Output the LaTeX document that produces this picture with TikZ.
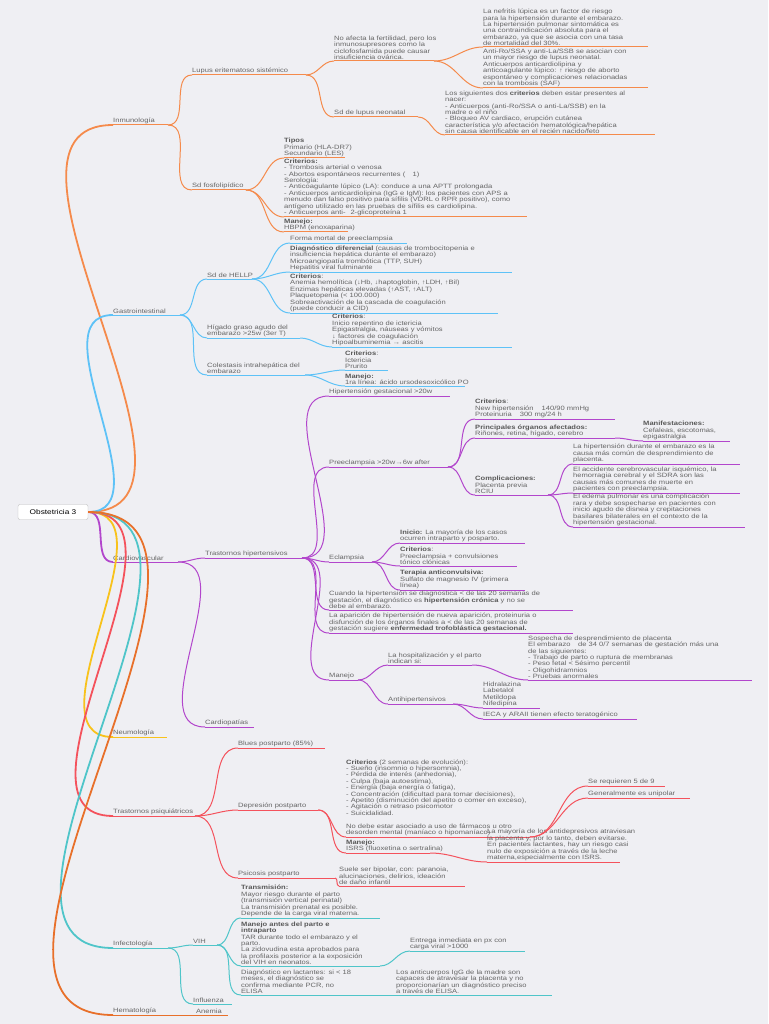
\documentclass[tikz,border=0pt]{standalone}
\usepackage{fontspec}
\setmainfont{Liberation Sans}[FakeStretch=1.22]
\definecolor{bg}{HTML}{EFEFF3}
\definecolor{tx}{HTML}{666666}
\definecolor{co}{HTML}{F58A4B}
\definecolor{bl}{HTML}{5EC2F7}
\definecolor{pu}{HTML}{B246CC}
\definecolor{ye}{HTML}{F8C21B}
\definecolor{re}{HTML}{F4525C}
\definecolor{te}{HTML}{4FC5C9}
\definecolor{ho}{HTML}{E8702A}
\tikzset{
 txt/.style={inner xsep=0pt,inner ysep=1pt,align=left,text=tx,font=\fontsize{6.2}{6.4}\selectfont},
 uline/.style={line width=1pt},
 conn/.style={line width=1pt},
 conn1/.style={line width=1.8pt},
}
\newcommand\leaf[6]{%
 \node[txt,anchor=south west] (#1) at (#2,#3) {#6};
 \coordinate (#1-l) at (#2,#3); \coordinate (#1-r) at (#2+#4,#3);
 \draw[uline,#5] (#1-l) -- (#1-r);}
\newcommand\con[3]{\draw[conn,#3] (#1-r) to[out=0,in=180] (#2-l);}
\newcommand\rcon[2]{\draw[conn1,#2] (root.east) to[out=0,in=180] (#1-l);}
\newcommand\hb[1]{\textbf{\color{black!65}#1}}
\begin{document}
\begin{tikzpicture}[x=1pt,y=-1pt]
\fill[bg] (0,0) rectangle (768,1024);
\useasboundingbox (0,0) rectangle (768,1024);
\node[draw=black!25,fill=white,rounded corners=2pt,minimum width=70pt,minimum height=15pt,font=\fontsize{6.8}{8}\selectfont] (root) at (53,512) {Obstetricia 3};
% level 1
\leaf{inm}{113}{125}{55}{co}{Inmunología}
\leaf{gas}{113}{315}{67}{bl}{Gastrointestinal}
\leaf{car}{113}{562}{65}{pu}{Cardiovascular}
\leaf{neu}{113}{737}{54}{ye}{Neumología}
\leaf{psi}{113}{816}{82}{re}{Trastornos psiquiátricos}
\leaf{inf}{113}{948}{55}{te}{Infectología}
\leaf{hem}{113}{1015}{55}{ho}{Hematología}
\rcon{inm}{co}\rcon{gas}{bl}\rcon{car}{pu}\rcon{neu}{ye}\rcon{psi}{re}\rcon{inf}{te}\rcon{hem}{ho}
% Inmunologia
\leaf{les}{192}{75}{114}{co}{Lupus eritematoso sistémico}
\leaf{fer}{334}{61}{100}{co}{No afecta la fertilidad, pero los\\inmunosupresores como la\\ciclofosfamida puede causar\\insuficiencia ovárica.}
\leaf{nef}{483}{47}{165}{co}{La nefritis lúpica es un factor de riesgo\\para la hipertensión durante el embarazo.\\La hipertensión pulmonar sintomática es\\una contraindicación absoluta para el\\embarazo, ya que se asocia con una tasa\\de mortalidad del 30\%.}
\leaf{ant}{483}{88}{165}{co}{Anti-Ro/SSA y anti-La/SSB se asocian con\\un mayor riesgo de lupus neonatal.\\Anticuerpos anticardiolipina y\\anticoagulante lúpico: ↑ riesgo de aborto\\espontáneo y complicaciones relacionadas\\con la trombosis (SAF)}
\leaf{lneo}{334}{117}{84}{co}{Sd de lupus neonatal}
\leaf{lneoc}{445}{135}{210}{co}{Los siguientes dos \hb{criterios} deben estar presentes al\\nacer:\\- Anticuerpos (anti-Ro/SSA o anti-La/SSB) en la\\madre o el niño\\- Bloqueo AV cardiaco, erupción cutánea\\característica y/o afectación hematológica/hepática\\sin causa identificable en el recién nacido/feto}
\leaf{saf}{192}{190}{54}{co}{Sd fosfolipídico}
\leaf{tip}{284}{158}{61}{co}{\hb{Tipos}\\Primario (HLA-DR7)\\Secundario (LES)}
\leaf{scri}{284}{217}{243}{co}{\hb{Criterios:}\\- Trombosis arterial o venosa\\- Abortos espontáneos recurrentes (\hspace{1.2em}1)\\Serología:\\- Anticoagulante lúpico (LA): conduce a una APTT prolongada\\- Anticuerpos anticardiolipina (IgG e IgM): los pacientes con APS a\\menudo dan falso positivo para sífilis (VDRL o RPR positivo), como\\antígeno utilizado en las pruebas de sífilis es cardiolipina.\\- Anticuerpos anti-\hspace{0.8em}2-glicoproteína 1}
\leaf{sman}{284}{232}{64}{co}{\hb{Manejo:}\\HBPM (enoxaparina)}
\con{inm}{les}{co}\con{inm}{saf}{co}\con{les}{fer}{co}\con{les}{lneo}{co}
\con{fer}{nef}{co}\con{fer}{ant}{co}\con{lneo}{lneoc}{co}
\con{saf}{tip}{co}\con{saf}{scri}{co}\con{saf}{sman}{co}
% Gastro
\leaf{hel}{207}{279}{45}{bl}{Sd de HELLP}
\leaf{hfm}{290}{243}{117}{bl}{Forma mortal de preeclampsia}
\leaf{hdd}{290}{272}{222}{bl}{\hb{Diagnóstico diferencial} (causas de trombocitopenia e\\insuficiencia hepática durante el embarazo)\\Microangiopatía trombótica (TTP, SUH)\\Hepatitis viral fulminante}
\leaf{hcr}{290}{313}{208}{bl}{\hb{Criterios}:\\Anemia hemolítica (↓Hb, ↓haptoglobin, ↑LDH, ↑Bil)\\Enzimas hepáticas elevadas (↑AST, ↑ALT)\\Plaquetopenia (< 100.000)\\Sobreactivación de la cascada de coagulación\\(puede conducir a CID)}
\leaf{hga}{207}{338}{93}{bl}{Hígado graso agudo del\\embarazo >25w (3er T)}
\leaf{hgc}{332}{347}{180}{bl}{\hb{Criterios}:\\Inicio repentino de ictericia\\Epigastralgia, náuseas y vómitos\\↓ factores de coagulación\\Hipoalbuminemia → ascitis}
\leaf{col}{207}{375}{98}{bl}{Colestasis intrahepática del\\embarazo}
\leaf{cc1}{345}{370}{43}{bl}{\hb{Criterios}:\\Ictericia\\Prurito}
\leaf{cc2}{345}{386}{120}{bl}{\hb{Manejo:}\\1ra línea: ácido ursodesoxicólico PO}
\con{gas}{hel}{bl}\con{gas}{hga}{bl}\con{gas}{col}{bl}
\con{hel}{hfm}{bl}\con{hel}{hdd}{bl}\con{hel}{hcr}{bl}\con{hga}{hgc}{bl}\con{col}{cc1}{bl}\con{col}{cc2}{bl}
% Cardio
\leaf{thi}{205}{558}{97}{pu}{Trastornos hipertensivos}
\leaf{hge}{329}{396}{121}{pu}{Hipertensión gestacional >20w}
\leaf{pre}{329}{467}{119}{pu}{Preeclampsia >20w→6w after}
\leaf{pcr}{475}{419}{140}{pu}{\hb{Criterios}:\\New hipertensión\hspace{1.3em}140/90 mmHg\\Proteinuria\hspace{1.3em}300 mg/24 h}
\leaf{por}{475}{438}{140}{pu}{\hb{Principales órganos afectados:}\\Riñones, retina, hígado, cerebro}
\leaf{pma}{643}{441}{87}{pu}{\hb{Manifestaciones:}\\Cefaleas, escotomas,\\epigastralgia}
\leaf{pco}{475}{495}{73}{pu}{\hb{Complicaciones:}\\Placenta previa\\RCIU}
\leaf{pc1}{573}{464}{167}{pu}{La hipertensión durante el embarazo es la\\causa más común de desprendimiento de\\placenta.}
\leaf{pc2}{573}{493}{167}{pu}{El accidente cerebrovascular isquémico, la\\hemorragia cerebral y el SDRA son las\\causas más comunes de muerte en\\pacientes con preeclampsia.}
\leaf{pc3}{573}{527}{172}{pu}{El edema pulmonar es una complicación\\rara y debe sospecharse en pacientes con\\inicio agudo de disnea y crepitaciones\\basilares bilaterales en el contexto de la\\hipertensión gestacional.}
\leaf{ecl}{329}{562}{43}{pu}{Eclampsia}
\leaf{ei}{400}{543}{125}{pu}{\hb{Inicio:} La mayoría de los casos\\ocurren intraparto y posparto.}
\leaf{ec}{400}{566}{117}{pu}{\hb{Criterios}:\\Preeclampsia + convulsiones\\tónico clónicas}
\leaf{et}{400}{590}{125}{pu}{\hb{Terapia anticonvulsiva:}\\Sulfato de magnesio IV (primera\\línea)}
\leaf{hcr2}{329}{610}{244}{pu}{Cuando la hipertensión se diagnostica < de las 20 semanas de\\gestación, el diagnóstico es \hb{hipertensión crónica} y no se\\debe al embarazo.}
\leaf{etg}{329}{633}{244}{pu}{La aparición de hipertensión de nueva aparición, proteinuria o\\disfunción de los órganos finales a < de las 20 semanas de\\gestación sugiere \hb{enfermedad trofoblástica gestacional.}}
\leaf{man}{329}{680}{29}{pu}{Manejo}
\leaf{hos}{388}{665}{84}{pu}{La hospitalización y el parto\\indican si:}
\leaf{sos}{528}{680}{224}{pu}{Sospecha de desprendimiento de placenta\\El embarazo\hspace{1.2em}de 34 0/7 semanas de gestación más una\\de las siguientes:\\- Trabajo de parto o ruptura de membranas\\- Peso fetal < 5ésimo percentil\\- Oligohidramnios\\- Pruebas anormales}
\leaf{ahi}{388}{704}{65}{pu}{Antihipertensivos}
\leaf{hid}{483}{708}{57}{pu}{Hidralazina\\Labetalol\\Metildopa\\Nifedipina}
\leaf{iec}{483}{719}{154}{pu}{IECA y ARAII tienen efecto teratogénico}
\leaf{cpa}{205}{727}{49}{pu}{Cardiopatías}
\con{car}{thi}{pu}\con{car}{cpa}{pu}
\con{thi}{hge}{pu}\con{thi}{pre}{pu}\con{thi}{ecl}{pu}\con{thi}{hcr2}{pu}\con{thi}{etg}{pu}\con{thi}{man}{pu}
\con{pre}{pcr}{pu}\con{pre}{por}{pu}\con{pre}{pco}{pu}\con{por}{pma}{pu}
\con{pco}{pc1}{pu}\con{pco}{pc2}{pu}\con{pco}{pc3}{pu}
\con{ecl}{ei}{pu}\con{ecl}{ec}{pu}\con{ecl}{et}{pu}
\con{man}{hos}{pu}\con{man}{ahi}{pu}\con{hos}{sos}{pu}\con{ahi}{hid}{pu}\con{ahi}{iec}{pu}
% Psiq
\leaf{blu}{238}{748}{87}{re}{Blues postparto (85\%)}
\leaf{dep}{238}{810}{80}{re}{Depresión postparto}
\leaf{dcr}{346}{837}{184}{re}{\hb{Criterios} (2 semanas de evolución):\\- Sueño (insomnio o hipersomnia),\\- Pérdida de interés (anhedonia),\\- Culpa (baja autoestima),\\- Energía (baja energía o fatiga),\\- Concentración (dificultad para tomar decisiones),\\- Apetito (disminución del apetito o comer en exceso),\\- Agitación o retraso psicomotor\\- Suicidalidad.\\[6.4pt]No debe estar asociado a uso de fármacos u otro\\desorden mental (maníaco o hipomaníaco)}
\leaf{d59}{588}{786}{77}{re}{Se requieren 5 de 9}
\leaf{dun}{588}{798}{102}{re}{Generalmente es unipolar}
\leaf{dma}{346}{853}{84}{re}{\hb{Manejo:}\\ISRS (fluoxetina o sertralina)}
\leaf{dla}{487}{862}{133}{re}{La mayoría de los antidepresivos atraviesan\\la placenta y, por lo tanto, deben evitarse.\\En pacientes lactantes, hay un riesgo casi\\nulo de exposición a través de la leche\\materna,especialmente con ISRS.}
\leaf{psp}{238}{878}{97}{re}{Psicosis postparto}
\leaf{pss}{339}{886}{126}{re}{Suele ser bipolar, con: paranoia,\\alucinaciones, delirios, ideación\\de daño infantil}
\con{psi}{blu}{re}\con{psi}{dep}{re}\con{psi}{psp}{re}
\con{dep}{dcr}{re}\con{dep}{dma}{re}\con{dcr}{d59}{re}\con{dcr}{dun}{re}\con{dma}{dla}{re}\con{psp}{pss}{re}
% Infecto
\leaf{vih}{193}{945}{24}{te}{VIH}
\leaf{vtr}{241}{918}{139}{te}{\hb{Transmisión:}\\Mayor riesgo durante el parto\\(transmisión vertical perinatal)\\La transmisión prenatal es posible.\\Depende de la carga viral materna.}
\leaf{vma}{241}{966}{139}{te}{\hb{Manejo antes del parto e}\\\hb{intraparto}\\TAR durante todo el embarazo y el\\parto.\\La zidovudina esta aprobados para\\la profilaxis posterior a la exposición\\del VIH en neonatos.}
\leaf{ven}{410}{951}{115}{te}{Entrega inmediata en px con\\carga viral >1000}
\leaf{vdi}{241}{995}{126}{te}{Diagnóstico en lactantes: si < 18\\meses, el diagnóstico se\\confirma mediante PCR, no\\ELISA}
\leaf{vac}{396}{995}{156}{te}{Los anticuerpos IgG de la madre son\\capaces de atravesar la placenta y no\\proporcionarían un diagnóstico preciso\\a través de ELISA.}
\leaf{flu}{193}{1004}{39}{te}{Influenza}
\con{inf}{vih}{te}\con{inf}{flu}{te}\con{vih}{vtr}{te}\con{vih}{vma}{te}\con{vih}{vdi}{te}\con{vma}{ven}{te}\con{vdi}{vac}{te}
\leaf{ane}{193}{1015}{35}{ho}{\hspace{3pt}Anemia}
\con{hem}{ane}{ho}
\end{tikzpicture}
\end{document}
